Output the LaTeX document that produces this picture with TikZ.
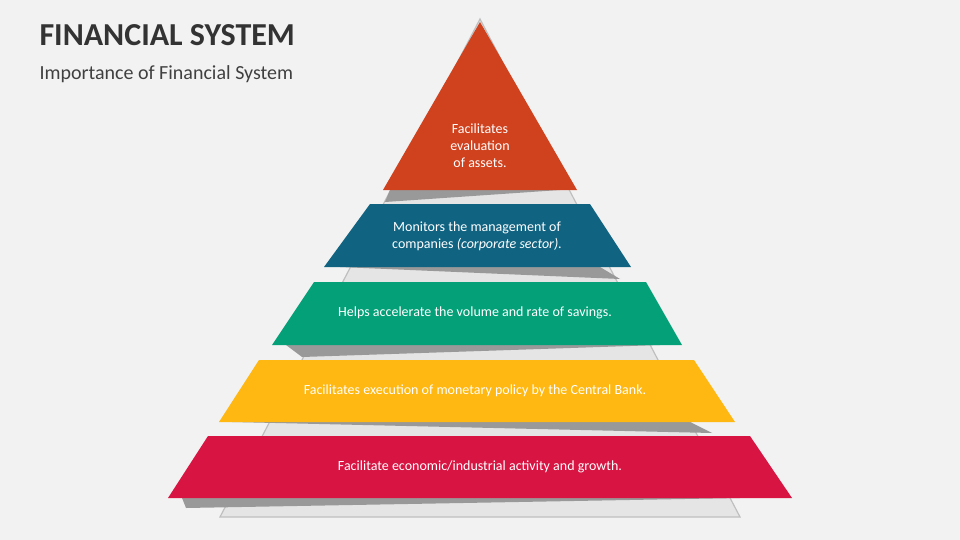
\documentclass[tikz,border=0pt]{standalone}
\usepackage{fontspec}
\setmainfont{Carlito}
\begin{document}
\begin{tikzpicture}[x=1pt,y=-1pt,
  tiertext/.style={text=white,font=\fontsize{14}{17}\selectfont,align=center},
  shade/.style={fill=black!40}]
\useasboundingbox[fill=black!5] (0,0) rectangle (960,540);
\node[anchor=west,font=\bfseries\fontsize{32}{36}\selectfont,text=black!80] (title) at (36,35) {FINANCIAL SYSTEM};
\node[anchor=west,font=\fontsize{20}{24}\selectfont,text=black!75] (sub) at (36,74) {Importance of Financial System};
% back pyramid
\draw[black!25,line width=1.2pt,fill=black!10] (480,19) -- (740,517) -- (220,517) -- cycle;
% shadows
\fill[shade] (390,190) -- (385,202) -- (560,190) -- cycle;
\fill[shade] (340,267) -- (600,267) -- (620,279) -- cycle;
\fill[shade] (286,345) -- (302,357) -- (660,345) -- cycle;
\fill[shade] (232,422) -- (690,422) -- (712,433) -- cycle;
\fill[shade] (182,498) -- (186,508) -- (740,498) -- cycle;
% tiers
\fill[fill={rgb,255:red,208;green,65;blue,30}] (480,22) -- (577,190) -- (383,190) -- cycle;
\fill[fill={rgb,255:red,16;green,100;blue,130}] (370,204) -- (590,204) -- (631,267) -- (324,267) -- cycle;
\fill[fill={rgb,255:red,4;green,160;blue,120}] (314,282) -- (646,282) -- (682,345) -- (272,345) -- cycle;
\fill[fill={rgb,255:red,255;green,183;blue,17}] (259,360) -- (694,360) -- (735,422) -- (219,422) -- cycle;
\fill[fill={rgb,255:red,215;green,20;blue,66}] (208,436) -- (750,436) -- (792,498) -- (168,498) -- cycle;
% texts
\node[tiertext] (t1) at (480,146) {Facilitates\\evaluation\\of assets.};
\node[tiertext] (t2) at (477,236) {Monitors the management of\\companies \textit{(corporate sector)}.};
\node[tiertext] (t3) at (475,313) {Helps accelerate the volume and rate of savings.};
\node[tiertext] (t4) at (475,391) {Facilitates execution of monetary policy by the Central Bank.};
\node[tiertext] (t5) at (480,467) {Facilitate economic/industrial activity and growth.};
\end{tikzpicture}
\end{document}
